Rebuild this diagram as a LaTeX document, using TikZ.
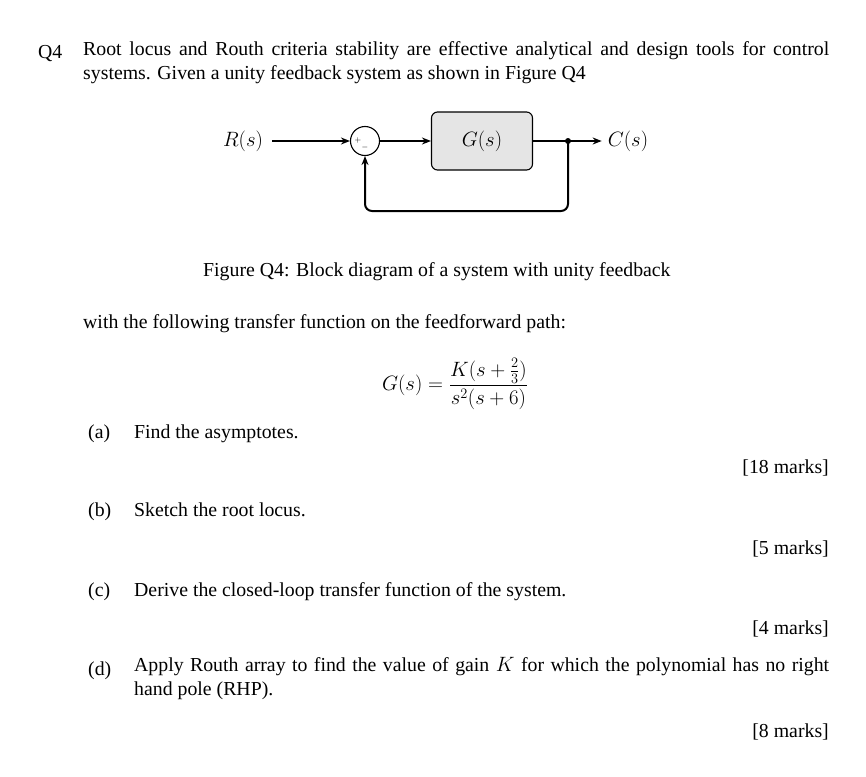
\documentclass[tikz,border=0pt]{standalone}
\usepackage{fontspec}
\setmainfont{Liberation Serif}
\usetikzlibrary{arrows.meta}
\begin{document}
\begin{tikzpicture}[x=1pt,y=-1pt,
  txt/.style={anchor=base west,inner sep=0pt,font=\fontsize{19.8}{24}\selectfont},
  rtxt/.style={anchor=base east,inner sep=0pt,font=\fontsize{19.8}{24}\selectfont},
  sig/.style={line width=2pt,-{Stealth[length=9pt,width=7pt]}},
  blk/.style={draw,line width=1.1pt,rounded corners=6pt,fill=gray!20,minimum width=101pt,minimum height=58pt,font=\fontsize{20}{22}\selectfont},
  sumc/.style={draw,circle,line width=1.1pt,minimum size=29pt,inner sep=0pt},
  lbl/.style={inner sep=0pt,font=\fontsize{20}{22}\selectfont}]
\useasboundingbox (0,0) rectangle (866,776);
\node[txt] (q) at (38,59) {Q4};
\node[anchor=north west,inner sep=0pt,text width=746pt,align=justify,font=\fontsize{19.8}{24}\selectfont] (p) at (83,41)
 {Root locus and Routh criteria stability are effective analytical and design tools for control\linebreak systems. Given a unity feedback system as shown in Figure Q4};
% block diagram
\node[lbl] (R) at (243,141) {$R(s)$};
\node[sumc] (S) at (365,141) {};
\node[inner sep=0pt,font=\footnotesize] (pl) at (358,140) {$+$};
\node[inner sep=0pt,font=\footnotesize] (mi) at (365,147) {$-$};
\node[blk] (G) at (482,141) {$G(s)$};
\coordinate (J) at (568,141);
\node[lbl] (C) at (628,141) {$C(s)$};
\coordinate (B) at (568,211);
\coordinate (B2) at (365,211);
\draw[sig] (272,141) -- (S.west);
\draw[sig] (S.east) -- (G.west);
\draw[sig,shorten >=6pt] (G.east) -- (C.west);
\fill (J) circle (3pt);
\draw[sig,rounded corners=7pt] (J) -- (B) -- (B2) -- (S.south);
\node[txt] (cap) at (203,276) {Figure Q4: Block diagram of a system with unity feedback};
\node[txt] (w) at (83,328) {with the following transfer function on the feedforward path:};
\node[inner sep=0pt,font=\fontsize{20}{22}\selectfont] (eq) at (455,384) {$\displaystyle G(s)=\frac{K(s+\frac{2}{3})}{s^2(s+6)}$};
\node[txt] (a) at (88,438) {(a)};
\node[txt] (at) at (134,438) {Find the asymptotes.};
\node[rtxt] (am) at (829,473) {[18 marks]};
\node[txt] (b) at (88,516) {(b)};
\node[txt] (bt) at (134,516) {Sketch the root locus.};
\node[rtxt] (bm) at (829,554) {[5 marks]};
\node[txt] (c) at (88,596) {(c)};
\node[txt] (ct) at (134,596) {Derive the closed-loop transfer function of the system.};
\node[rtxt] (cm) at (829,634) {[4 marks]};
\node[txt] (d) at (88,675) {(d)};
\node[anchor=north west,inner sep=0pt,text width=695pt,align=justify,font=\fontsize{19.8}{24}\selectfont] (dt) at (134,657)
 {Apply Routh array to find the value of gain $K$ for which the polynomial has no right\linebreak hand pole (RHP).};
\node[rtxt] (dm) at (829,737) {[8 marks]};
\end{tikzpicture}
\end{document}
